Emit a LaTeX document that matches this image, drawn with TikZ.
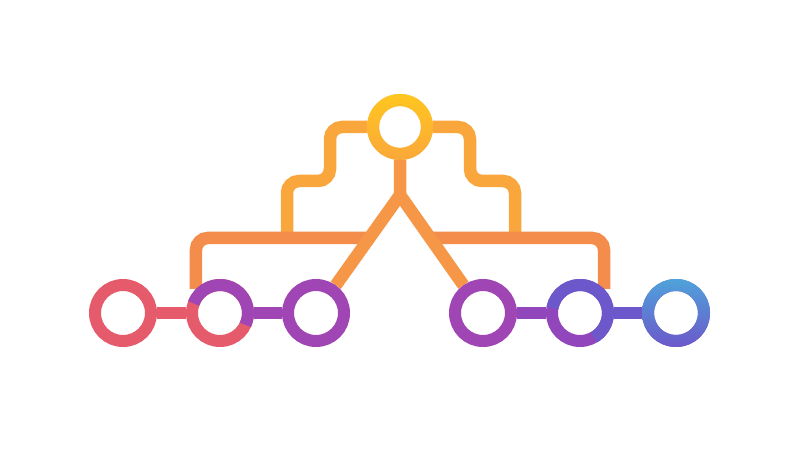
\documentclass[tikz,border=0pt]{standalone}
\usetikzlibrary{calc,backgrounds}
\definecolor{ylw}{HTML}{FFC61F}
\definecolor{topo}{HTML}{FBA83A}
\definecolor{stairC}{HTML}{F9A73C}
\definecolor{lowC}{HTML}{F48C4B}
\definecolor{diagC}{HTML}{F69647}
\definecolor{pinkC}{HTML}{E65B6B}
\definecolor{purpC}{HTML}{A045B4}
\definecolor{purpB}{HTML}{9146BC}
\definecolor{violC}{HTML}{6C58CA}
\definecolor{blueC}{HTML}{4FA2DA}
\tikzset{
  ring/.style={circle, draw, fill=white, line width=12pt, minimum size=56pt, inner sep=0pt},
  wire/.style={line width=12.5pt, rounded corners=12pt},
  arcpart/.style={line width=12pt}
}
\begin{document}
\begin{tikzpicture}[x=1pt,y=1pt]
\useasboundingbox (0,0) rectangle (800,450);
\node[ring, draw=topo, minimum size=54pt] (t) at (400,323) {};
\shade[top color=ylw, bottom color=topo, even odd rule] (t) circle (33) (t) circle (21);
\foreach \n/\x/\c in {1/123/pinkC, 2/220/pinkC, 3/316/purpC, 4/483/purpC, 5/580/purpB, 6/676/violC}
  \node[ring, draw=\c] (c\n) at (\x,137) {};

\begin{scope}[on background layer]
\coordinate (split) at (400,255);
\draw[wire, stairC] (t.west) -| (330,269) -| (287,212);
\draw[wire, stairC] (t.east) -| (470,269) -| (515,212);
\draw[wire, lowC] ($(split)!.364!(c3)$) -| (c2.north west);
\draw[wire, lowC] ($(split)!.364!(c4)$) -| (c5.north east);
\draw[wire, diagC, sharp corners, line join=round] (t.south) -- (split) -- (c3) (split) -- (c4);
\end{scope}

\foreach \a/\b/\c in {1/2/pinkC, 2/3/purpC, 4/5/purpB, 5/6/violC}
  \draw[line width=12.5pt, \c] (c\a) -- (c\b);

\draw[arcpart, purpC] ($(c2)+(160:28)$) arc[start angle=160, end angle=-25, radius=28];
\draw[arcpart, violC] ($(c5)+(170:28)$) arc[start angle=170, end angle=-60, radius=28];
\shade[top color=blueC, bottom color=violC, even odd rule] (c6) circle (34) (c6) circle (22);
\end{tikzpicture}
\end{document}
